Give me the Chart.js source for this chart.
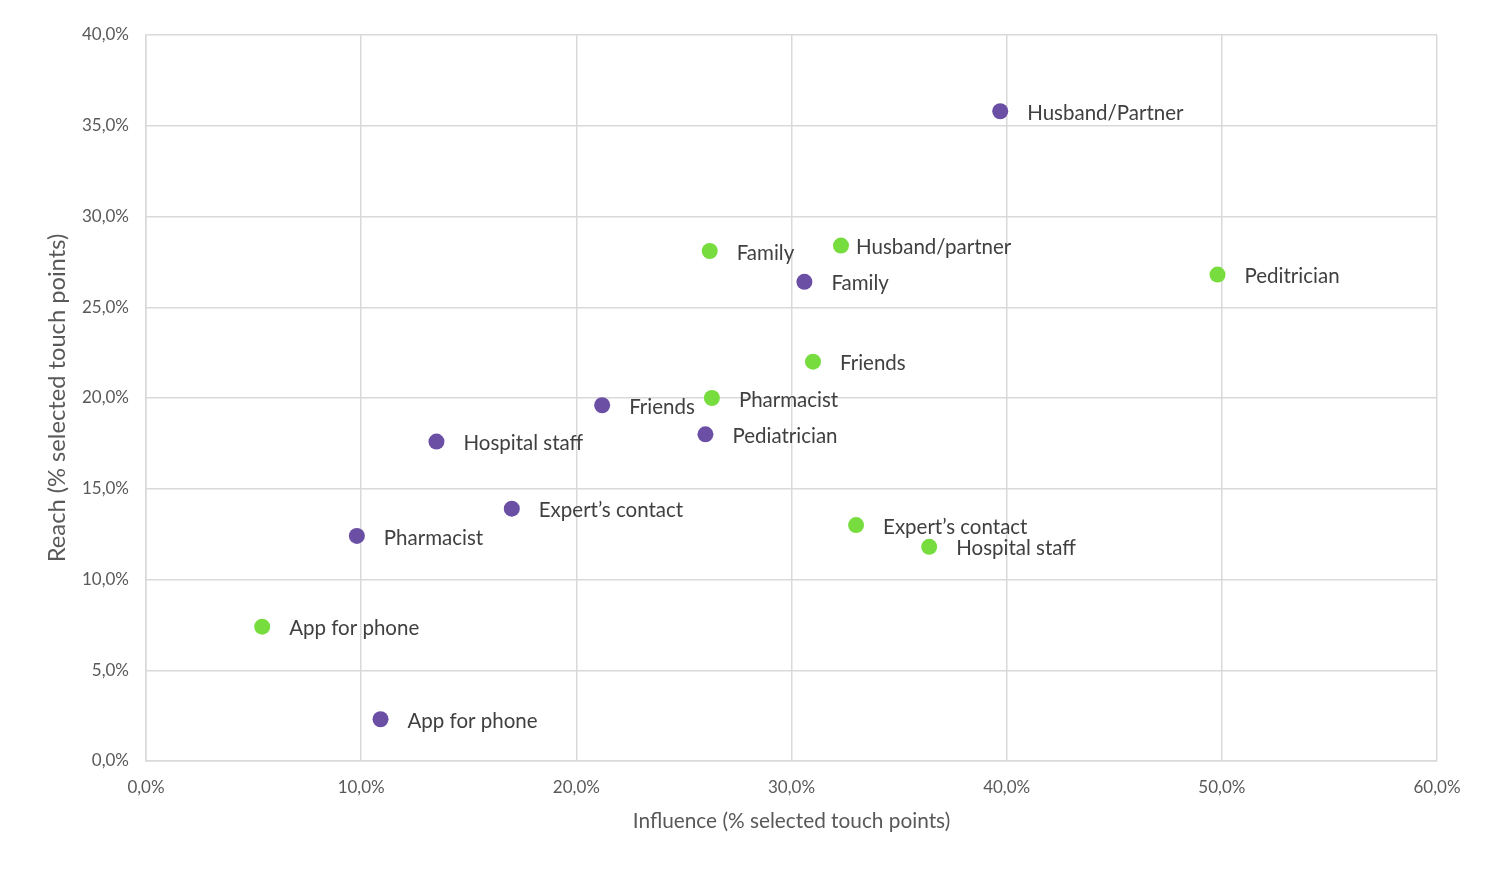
<!DOCTYPE html>
<html>
<head>
<meta charset="utf-8">
<script src="https://cdn.jsdelivr.net/npm/chart.js@4"></script>
<style>
html,body{margin:0;padding:0;background:#fff;}
#wrap{width:1500px;height:877px;}
</style>
</head>
<body>
<div id="wrap"><canvas id="c" width="1500" height="877"></canvas></div>
<script>
const purpleNames = ["Husband/Partner","Family","Friends","Pediatrician","Hospital staff","Expert’s contact","Pharmacist","App for phone"];
const purpleInfluence = [39.7, 30.6, 21.2, 26.0, 13.5, 17.0, 9.8, 10.9];
const purpleReach = [35.8, 26.4, 19.6, 18.0, 17.6, 13.9, 12.4, 2.3];

const greenNames = ["Family","Husband/partner","Peditrician","Friends","Pharmacist","Expert’s contact","Hospital staff","App for phone"];
const greenInfluence = [26.2, 32.3, 49.8, 31.0, 26.3, 33.0, 36.4, 5.4];
const greenReach = [28.1, 28.4, 26.8, 22.0, 20.0, 13.0, 11.8, 7.4];

const xTitle = "Influence (% selected touch points)";
const yTitle = "Reach (% selected touch points)";

function toPoints(xs, ys){ return xs.map((x,i)=>({x:x, y:ys[i]})); }
function fmt(v){ return v.toFixed(1).replace('.', ',') + '%'; }

const FONT = "Lato, 'Open Sans', sans-serif";

const labelPlugin = {
  id: 'pointLabels',
  afterDatasetsDraw(chart, args, opts){
    const ctx = chart.ctx;
    ctx.save();
    ctx.font = "20.5px " + FONT;
    ctx.fillStyle = "#404040";
    ctx.textAlign = "left";
    ctx.textBaseline = "middle";
    chart.data.datasets.forEach((ds, di)=>{
      const meta = chart.getDatasetMeta(di);
      meta.data.forEach((pt, i)=>{
        const key = di + ':' + i;
        const dx = (opts.gapOverride && opts.gapOverride[key] !== undefined) ? opts.gapOverride[key] : opts.gap;
        ctx.fillText(ds.names[i], pt.x + dx, pt.y + 2);
      });
    });
    ctx.restore();
  }
};

new Chart(document.getElementById('c'), {
  type: 'scatter',
  data: {
    datasets: [
      { label: 'Purple', names: purpleNames, data: toPoints(purpleInfluence, purpleReach),
        backgroundColor: '#6a4fa5', borderColor: '#6a4fa5', pointRadius: 8, pointHoverRadius: 8, borderWidth: 0 },
      { label: 'Green', names: greenNames, data: toPoints(greenInfluence, greenReach),
        backgroundColor: '#77dd3e', borderColor: '#77dd3e', pointRadius: 8, pointHoverRadius: 8, borderWidth: 0 }
    ]
  },
  options: {
    responsive: false,
    animation: false,
    devicePixelRatio: 1,
    layout: { padding: { top: 35, right: 63, left: 0, bottom: 0 } },
    plugins: {
      legend: { display: false }, tooltip: { enabled: false },
      pointLabels: { gap: 27, gapOverride: { '1:1': 15 } }
    },
    scales: {
      x: {
        type: 'linear', min: 0, max: 60,
        ticks: { stepSize: 10, padding: 16, color: '#595959', font: { family: FONT, size: 17 }, callback: v => fmt(v) },
        grid: { color: '#d9d9d9', lineWidth: 1.5, drawTicks: false },
        border: { color: '#d9d9d9', width: 1.5 },
        title: { display: true, text: xTitle, color: '#595959', font: { family: FONT, size: 20.8 }, padding: { top: 0, bottom: 43 } },
        afterFit(s){ s.height = 116; }
      },
      y: {
        type: 'linear', min: 0, max: 40,
        ticks: { stepSize: 5, padding: 17, color: '#595959', font: { family: FONT, size: 17 }, callback: v => fmt(v) },
        grid: { color: '#d9d9d9', lineWidth: 1.5, drawTicks: false },
        border: { color: '#d9d9d9', width: 1.5 },
        title: { display: true, text: yTitle, color: '#595959', font: { family: FONT, size: 23.7 }, padding: { top: 43, bottom: 0 } },
        afterFit(s){ s.width = 146; }
      }
    }
  },
  plugins: [labelPlugin]
});
</script>
</body>
</html>
